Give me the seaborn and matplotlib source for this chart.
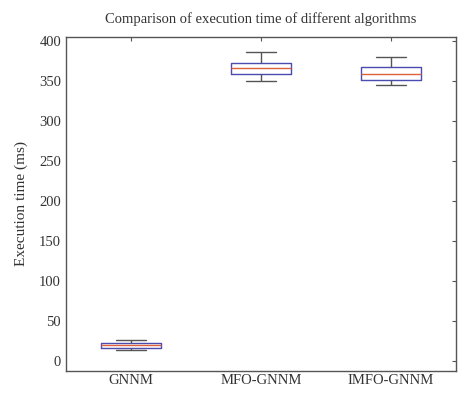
import numpy as np
import pandas as pd
import matplotlib
matplotlib.use('Agg')
import matplotlib.pyplot as plt
import seaborn as sns

# ========================
# DATA (min, q1, median, q3, max)
# ========================
algorithms = ['GNNM', 'MFO-GNNM', 'IMFO-GNNM']
gnnm_times = [14, 17, 20, 23, 27]
mfo_times = [350, 359, 366, 372, 386]
imfo_times = [345, 351, 359, 367, 380]

df = pd.DataFrame({
    'algorithm': np.repeat(algorithms, 5),
    'time': gnnm_times + mfo_times + imfo_times,
})

# ========================
# STYLE
# ========================
sns.set_style('white')
plt.rcParams['font.family'] = ['Liberation Serif', 'DejaVu Serif']
text_color = '#333333'
axis_color = '#555555'

fig = plt.figure(figsize=(4.74, 3.98), dpi=100)
ax = fig.add_axes([0.139, 0.068, 0.823, 0.839])

sns.boxplot(
    data=df, x='algorithm', y='time', order=algorithms,
    width=0.46, whis=(0, 100), fill=False, ax=ax,
    boxprops=dict(color='#4b4bb0', linewidth=1.0),
    medianprops=dict(color='#e0603a', linewidth=1.0),
    whiskerprops=dict(color='#555555', linewidth=1.0),
    capprops=dict(color='#555555', linewidth=1.0),
    showfliers=False,
)

ax.set_xlim(-0.5, 2.5)
ax.set_ylim(-12, 405)
ax.set_yticks(range(0, 401, 50))
ax.set_title('Comparison of execution time of different algorithms',
             fontsize=10.5, color=text_color, pad=10)
ax.set_ylabel('Execution time (ms)', fontsize=11, color=text_color, labelpad=8)
ax.set_xlabel('')

for sp in ax.spines.values():
    sp.set_visible(True)
    sp.set_color(axis_color)
    sp.set_linewidth(1.0)

ax.tick_params(direction='in', top=True, right=True, length=3,
               color=axis_color, labelsize=10.5, labelcolor=text_color)
ax.tick_params(axis='x', pad=2)

fig.savefig('out.png', dpi=100)
